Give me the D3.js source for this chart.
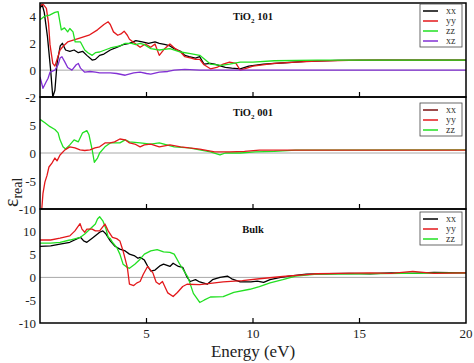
<!DOCTYPE html>
<html><head><meta charset="utf-8">
<script src="https://cdn.jsdelivr.net/npm/d3@7"></script>
<style>body{margin:0;background:#fff}svg{display:block;font-family:"Liberation Serif","Times New Roman",serif}</style>
</head><body><svg id="c" width="474" height="363"></svg>
<script>
// ---- data (energy eV, eps_real) ----
const xTicks = [5, 10, 15, 20];
const p1Ticks = [4, 2, 0, -2];
const p2Ticks = [5, 0, -5, -10];
const p3Ticks = [10, 5, 0, -5, -10];

const tio2_101_xx = [[0,4.6],[0.1,4.9],[0.2,4.3],[0.35,2.5],[0.5,0],[0.6,-2],[0.7,-1.5],[0.8,0.5],[0.95,1.8],[1.05,2.0],[1.2,1.5],[1.4,1.4],[1.6,1.5],[1.8,1.3],[2.0,1.4],[2.2,1.1],[2.45,0.75],[2.6,0.8],[2.8,1.1],[3.0,1.2],[3.3,1.5],[3.6,1.7],[3.9,1.9],[4.2,2.0],[4.5,2.2],[4.8,2.1],[5.1,2.0],[5.4,2.1],[5.6,2.0],[5.9,1.9],[6.1,1.8],[6.3,1.6],[6.6,1.4],[6.8,1.1],[7.0,1.0],[7.3,0.9],[7.5,1.0],[7.7,0.45],[8.0,0.5],[8.2,0.45],[8.5,0.3],[8.7,0.2],[9.0,0.15],[9.4,0.1],[9.8,0.3],[10.5,0.45],[11.5,0.55],[12.5,0.65],[14,0.72],[16,0.75],[18,0.75],[20,0.75]];
const tio2_101_yy = [[0,4.8],[0.15,4.9],[0.3,4.6],[0.4,3.5],[0.47,1.9],[0.6,0.5],[0.7,0.3],[0.8,0.8],[0.94,1.5],[1.1,1.8],[1.3,2.1],[1.6,2.25],[1.9,2.4],[2.3,2.6],[2.7,3.0],[3.0,3.4],[3.2,3.6],[3.3,3.4],[3.45,2.85],[3.65,2.6],[3.8,2.7],[3.95,2.9],[4.1,2.6],[4.2,2.3],[4.45,2.0],[4.7,1.7],[4.95,1.95],[5.2,1.7],[5.4,1.95],[5.6,1.1],[5.85,1.6],[6.1,1.95],[6.35,1.6],[6.6,1.35],[6.8,1.0],[7.1,0.9],[7.3,0.8],[7.5,0.8],[7.7,0.4],[8.0,0.1],[8.3,0.2],[8.6,0.45],[8.9,0.6],[9.2,0.5],[9.4,0.0],[9.6,0.1],[10,0.3],[11,0.5],[12,0.6],[13,0.68],[15,0.75],[20,0.75]];
const tio2_101_zz = [[0,3.75],[0.2,4.0],[0.45,4.1],[0.7,4.3],[0.85,4.35],[1.0,3.0],[1.15,3.15],[1.3,2.85],[1.4,3.1],[1.55,2.85],[1.65,2.1],[1.9,2.1],[2.1,1.5],[2.25,1.3],[2.45,1.1],[2.6,1.3],[2.8,1.35],[3.3,1.65],[3.75,1.8],[4.0,2.0],[4.3,2.0],[4.5,1.9],[4.7,2.0],[4.9,1.9],[5.2,1.6],[5.6,1.5],[6.1,1.6],[6.6,1.35],[7.0,1.25],[7.5,1.1],[8.0,0.45],[8.5,0.35],[8.9,0.45],[9.4,0.6],[10,0.6],[11,0.7],[13,0.75],[20,0.75]];
const tio2_101_xz = [[0,-0.5],[0.14,-1.35],[0.28,-0.9],[0.38,-0.6],[0.47,-0.15],[0.7,0],[0.85,0.4],[0.94,0.9],[1.03,1.0],[1.17,0.6],[1.3,0.2],[1.5,0],[1.7,0.4],[1.8,0.5],[1.9,0.15],[2.1,-0.15],[2.35,-0.1],[2.6,-0.15],[2.8,-0.2],[3.3,-0.2],[3.6,-0.25],[4.0,-0.38],[4.4,-0.2],[4.7,-0.15],[5.0,-0.25],[5.2,-0.3],[5.6,-0.15],[6.0,-0.1],[6.3,0],[6.8,0.05],[7.5,0],[20,0]];

const tio2_001_yy = [[0,-10.5],[0.08,-10.2],[0.14,-7.2],[0.23,-5.2],[0.33,-4.0],[0.42,-2.5],[0.56,-1.8],[0.7,-0.9],[0.8,-1.4],[0.94,-0.35],[1.17,0.55],[1.4,1.1],[1.64,0.9],[1.88,0.55],[2.1,0.45],[2.35,0.55],[2.58,0.9],[2.8,1.1],[3.05,1.8],[3.3,1.8],[3.5,2.0],[3.75,2.5],[4.0,2.35],[4.2,1.8],[4.45,1.6],[4.7,1.1],[4.9,1.45],[5.2,1.6],[5.6,1.1],[6.1,1.45],[6.6,1.1],[7.0,0.9],[7.5,0.7],[8.2,0.2],[8.9,0.2],[9.6,0.3],[10.3,0.5],[12,0.5],[15,0.5],[20,0.5]];
const tio2_001_zz = [[0,6.0],[0.23,5.4],[0.47,4.7],[0.7,4.2],[0.85,3.6],[0.94,2.35],[1.08,1.1],[1.2,0.7],[1.4,1.45],[1.6,2.35],[1.8,2.0],[2.0,3.6],[2.2,4.0],[2.3,3.25],[2.45,0.55],[2.55,-1.65],[2.7,-0.9],[2.8,0],[3.05,1.1],[3.3,1.8],[3.75,1.8],[4.0,2.35],[4.2,2.0],[4.7,1.8],[5.2,1.6],[5.6,1.8],[6.3,1.1],[7.0,0.9],[7.5,0.55],[8.0,0.2],[8.45,-0.35],[8.7,0],[9.4,0],[10.1,0.2],[11,0.3],[12,0.5],[20,0.55]];

const bulk_xx = [[0,6.8],[0.5,6.9],[0.94,7.3],[1.4,7.7],[1.8,8.6],[1.9,8.8],[2.05,8.0],[2.2,7.7],[2.45,8.6],[2.7,9.5],[2.8,9.9],[2.95,10.2],[3.1,9.5],[3.3,8.0],[3.5,6.9],[3.75,6.2],[4.0,5.8],[4.2,5.1],[4.45,4.7],[4.6,4.2],[4.7,4.4],[4.9,3.8],[5.05,2.5],[5.2,1.4],[5.4,1.6],[5.65,2.6],[5.8,2.9],[6.1,2.4],[6.25,3.1],[6.5,2.4],[6.7,2.2],[6.9,0.1],[7.05,-0.9],[7.3,-0.5],[7.5,-1.0],[7.85,-1.5],[8.1,-0.5],[8.45,0],[8.8,0.3],[9.0,-0.3],[9.4,-1.0],[9.9,-1.0],[10.2,-0.8],[10.5,-1.1],[10.8,-0.5],[11.3,0],[11.7,0.3],[12.5,0.7],[13.5,0.8],[14.5,0.9],[15.5,0.8],[16.5,1.0],[17.5,0.9],[18.5,1.1],[20,1.0]];
const bulk_yy = [[0,8.2],[0.5,8.2],[0.94,8.6],[1.4,9.1],[1.64,10.2],[1.88,11.8],[1.97,10.6],[2.1,9.9],[2.2,10.6],[2.45,10.6],[2.6,10.2],[2.8,10.2],[2.9,10.8],[3.05,11.7],[3.2,10.2],[3.4,8.8],[3.6,8.5],[3.75,8.0],[3.9,5.8],[4.1,2.2],[4.2,-1.5],[4.4,-1.8],[4.55,-1.2],[4.7,-0.9],[4.85,0.7],[5.05,2.4],[5.3,1.0],[5.45,-1.0],[5.6,-1.5],[5.75,-0.9],[6.0,-3.4],[6.25,-4.2],[6.45,-3.3],[6.7,-2.0],[6.9,-1.5],[7.5,-1.6],[8.0,-1.3],[8.6,-1.0],[9.5,-0.7],[10.3,-0.3],[11.4,0.2],[12.5,0.6],[13,0.8],[14,0.9],[15.5,1.0],[16.5,0.9],[17.5,1.3],[18.5,0.9],[20,1.0]];
const bulk_zz = [[0,7.5],[0.5,7.5],[0.94,7.7],[1.4,8.2],[1.9,8.8],[2.1,9.5],[2.35,10.6],[2.6,11.7],[2.7,12.8],[2.8,13.3],[2.95,12.4],[3.1,10.6],[3.2,8.8],[3.3,8.5],[3.4,7.7],[3.6,6.6],[3.75,5.1],[3.9,2.9],[4.1,2.2],[4.2,2.0],[4.45,2.9],[4.7,4.0],[4.9,5.1],[5.2,5.8],[5.5,6.1],[5.8,5.6],[6.1,5.5],[6.3,5.1],[6.55,3.0],[6.95,0],[7.2,-3.5],[7.5,-5.5],[7.7,-5.0],[8.0,-4.3],[8.6,-4.2],[9.1,-3.3],[9.85,-2.6],[10.3,-2.0],[10.8,-1.2],[11.4,-0.5],[12,0.3],[13,0.7],[15,0.8],[17,0.9],[20,1.0]];

const seriesNames1 = ["xx","yy","zz","xz"];
const seriesNames2 = ["xx","yy","zz"];
const seriesNames3 = ["xx","yy","zz"];

// ---- layout ----
const col = {xx:"#000000", yy:"#e3181b", zz:"#22e022", xz:"#8230d4"};
const svg = d3.select("#c");
svg.append("rect").attr("width",474).attr("height",363).attr("fill","#fff");
const L = 40, R = 466;
const x = d3.scaleLinear().domain([0,20]).range([L,R]);

const panels = [
  {top:3, bottom:97, dom:[-2,5], ticks:p1Ticks, title:["TiO","2"," 101"], ty:20,
   series:[["xx",tio2_101_xx],["yy",tio2_101_yy],["zz",tio2_101_zz],["xz",tio2_101_xz]],
   legend:seriesNames1, legCol:col, ly:4},
  {top:97, bottom:209, dom:[-10,10], ticks:p2Ticks, title:["TiO","2"," 001"], ty:116,
   series:[["zz",tio2_001_zz],["yy",tio2_001_yy]],
   legend:seriesNames2, legCol:{xx:"#7a1010", yy:"#e3181b", zz:"#22e022"}, ly:103},
  {top:209, bottom:323, dom:[-10,15], ticks:p3Ticks, title:["Bulk"], ty:233,
   series:[["xx",bulk_xx],["zz",bulk_zz],["yy",bulk_yy]],
   legend:seriesNames3, legCol:col, ly:212}
];

panels.forEach((p,i)=>{
  const y = d3.scaleLinear().domain(p.dom).range([p.bottom,p.top]);
  const g = svg.append("g");
  const cid = "clip"+i;
  svg.append("clipPath").attr("id",cid).append("rect")
    .attr("x",L).attr("y",p.top).attr("width",R-L).attr("height",p.bottom-p.top);
  // zero line
  g.append("line").attr("x1",L).attr("x2",R).attr("y1",y(0)).attr("y2",y(0))
    .attr("stroke","#a8a8a8").attr("stroke-width",1);
  const line = d3.line().x(d=>x(d[0])).y(d=>y(d[1]));
  const lg = g.append("g").attr("clip-path",`url(#${cid})`);
  p.series.forEach(([k,data])=>{
    lg.append("path").datum(data).attr("d",line).attr("fill","none")
      .attr("stroke",col[k]).attr("stroke-width",1.3).attr("stroke-linejoin","round");
  });
  // frame
  g.append("rect").attr("x",L).attr("y",p.top).attr("width",R-L).attr("height",p.bottom-p.top)
    .attr("fill","none").attr("stroke","#000").attr("stroke-width",1.5);
  // x ticks (inward)
  g.selectAll(".xt").data(xTicks.filter(t=>t<20)).enter().append("line")
    .attr("x1",d=>x(d)).attr("x2",d=>x(d)).attr("y1",p.bottom).attr("y2",p.bottom-5)
    .attr("stroke","#000").attr("stroke-width",1.2);
  // y tick labels
  g.selectAll(".yl").data(p.ticks).enter().append("text")
    .attr("x",36).attr("y",d=>y(d)).attr("dy","0.35em").attr("text-anchor","end")
    .attr("font-size",13).attr("fill","#222").text(d=>d);
  // title
  const t = g.append("text").attr("x",253).attr("y",p.ty).attr("text-anchor","middle")
    .attr("font-size",10.5).attr("font-weight","bold").attr("fill","#111");
  if (p.title.length===3){
    t.append("tspan").text(p.title[0]);
    t.append("tspan").attr("font-size",7).attr("dy",2.5).text(p.title[1]);
    t.append("tspan").attr("dy",-2.5).text(p.title[2]);
  } else t.text(p.title[0]);
  // legend
  const n = p.legend.length, rowH = 10;
  const lgd = g.append("g");
  lgd.append("rect").attr("x",420).attr("y",p.ly).attr("width",42).attr("height",n*rowH+3)
    .attr("fill","#fff").attr("stroke","#444").attr("stroke-width",0.8);
  p.legend.forEach((k,j)=>{
    const yy = p.ly + 7 + j*rowH;
    lgd.append("line").attr("x1",423).attr("x2",438).attr("y1",yy).attr("y2",yy)
      .attr("stroke",p.legCol[k]).attr("stroke-width",1.5);
    lgd.append("text").attr("x",446).attr("y",yy).attr("dy","0.3em")
      .attr("font-size",10).attr("fill","#333").text(k);
  });
});

// bottom x tick labels
svg.selectAll(".xl").data(xTicks).enter().append("text")
  .attr("x",d=>x(d)).attr("y",338).attr("text-anchor","middle")
  .attr("font-size",13).attr("fill","#222").text(d=>d);

// axis titles
svg.append("text").attr("x",253).attr("y",357).attr("text-anchor","middle")
  .attr("font-size",17).attr("fill","#222").text("Energy (eV)");
const yl = svg.append("text").attr("transform","translate(18,207) rotate(-90)")
  .attr("text-anchor","start").attr("fill","#222");
yl.append("tspan").attr("font-size",20).text("ε");
yl.append("tspan").attr("font-size",14).attr("dy",4).text("real");
</script></body></html>
